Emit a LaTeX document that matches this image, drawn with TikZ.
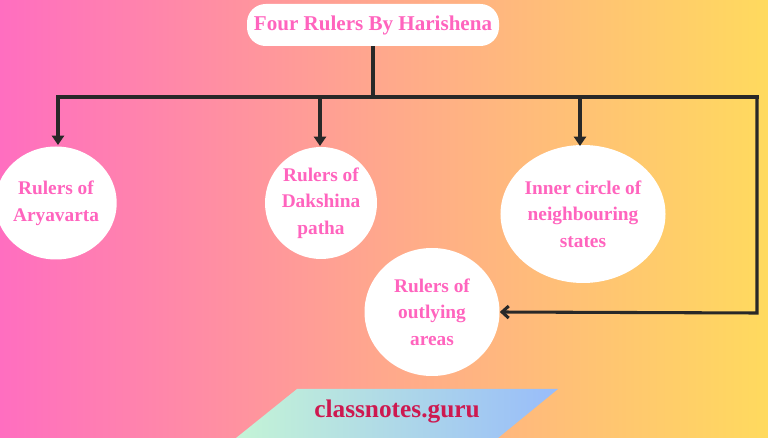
\documentclass[tikz,border=0pt]{standalone}
\usepackage{fontspec}
\setmainfont{Liberation Serif}
\usetikzlibrary{arrows.meta,shapes.geometric}
\definecolor{bgL}{RGB}{255,110,192}
\definecolor{bgM}{RGB}{255,168,140}
\definecolor{bgR}{RGB}{255,218,94}
\definecolor{pinktxt}{RGB}{255,100,190}
\definecolor{linec}{RGB}{40,40,40}
\definecolor{bannerL}{RGB}{196,244,214}
\definecolor{bannerR}{RGB}{152,188,250}
\definecolor{crimson}{RGB}{205,25,80}
\begin{document}
\begin{tikzpicture}[x=0.75pt,y=-0.75pt,
  circ/.style={draw=none,fill=white,ellipse,inner sep=0pt,align=center,text=pinktxt,font=\fontsize{14.5}{20}\selectfont\bfseries},
  conn/.style={draw=linec,line width=2.3pt},
  downarrow/.style={conn,-{Triangle[length=7pt,width=9pt]}},
  barb/.style={conn,-{Straight Barb[length=5pt,width=9pt]}}]
\shade[left color=bgL,right color=bgR,middle color=bgM] (0,0) rectangle (768,438);
\useasboundingbox (0,0) rectangle (768,438);
% title
\node[fill=white,rounded corners=14pt,minimum width=252*0.75pt,minimum height=42*0.75pt,inner sep=0pt,text=pinktxt,font=\fontsize{15.8}{20}\selectfont\bfseries] (title) at (373,25) {Four Rulers By Harishena};
% circles
\node[circ,minimum width=112*0.75pt,minimum height=113*0.75pt] (arya) at (56,203) {Rulers of\\Aryavarta};
\node[circ,minimum width=112*0.75pt,minimum height=112*0.75pt] (daks) at (321,203) {Rulers of\\Dakshina\\patha};
\node[circ,minimum width=163*0.75pt,minimum height=138*0.75pt] (inner) at (583,214) {Inner circle of\\neighbouring\\states};
\node[circ,minimum width=135*0.75pt,minimum height=128*0.75pt] (outl) at (432,312) {Rulers of\\outlying\\areas};
% connectors
\coordinate (hub) at (373,97);
\coordinate (lft) at (58,97);
\coordinate (mid) at (320,97);
\coordinate (rgt) at (580,97);
\coordinate (far) at (757,97);
\coordinate (farb) at (757,313);
\draw[conn] (title.south) -- (hub);
\draw[conn,line cap=rect] (lft) -- (far);
\draw[downarrow] (lft) -- (58,145);
\draw[downarrow] (mid) -- (320,146);
\draw[downarrow] (rgt) -- (580,146);
\draw[barb,line join=miter] (far) -- (farb) -- (outl.east);
% banner
\shade[left color=bannerL,right color=bannerR] (297,389) -- (558,389) -- (498,438) -- (236,438) -- cycle;
\node[text=crimson,font=\fontsize{19}{21}\selectfont\bfseries] (site) at (397,412) {classnotes.guru};
\end{tikzpicture}
\end{document}
